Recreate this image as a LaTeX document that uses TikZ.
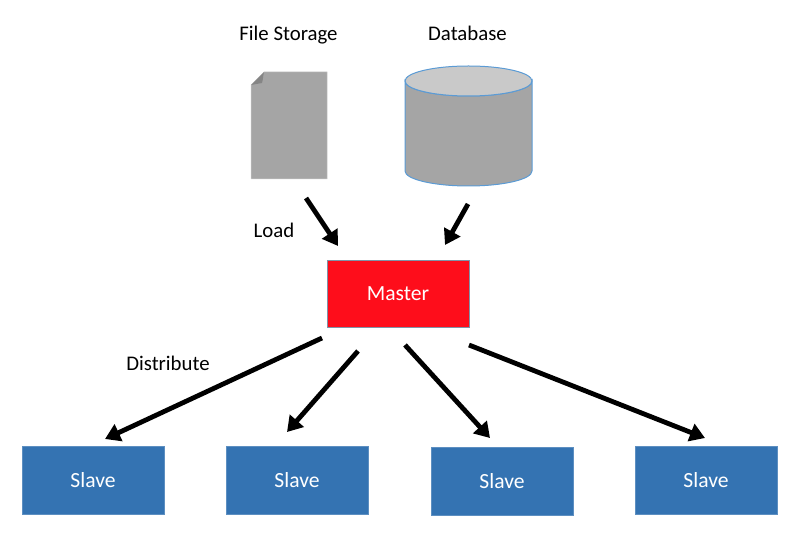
\documentclass[tikz,border=0pt]{standalone}
\usepackage{fontspec}
\setmainfont{Carlito}
\usetikzlibrary{arrows.meta}
\definecolor{slaveblue}{HTML}{3473B2}
\definecolor{masterred}{HTML}{FE0D1B}
\definecolor{masteredge}{HTML}{7F93A8}
\definecolor{shapegray}{HTML}{A5A5A5}
\definecolor{topgray}{HTML}{C9C9C9}
\definecolor{foldgray}{HTML}{858585}
\definecolor{edgeblue}{HTML}{5B9BD5}
\tikzset{
  slavebox/.style={draw=slaveblue!80!white,line width=0.6pt,fill=slaveblue,text=white,minimum width=142pt,minimum height=68pt,inner sep=0pt,text height=14pt,text depth=0pt,font=\fontsize{21.6}{24}\selectfont},
  masterbox/.style={draw=masteredge,line width=0.9pt,fill=masterred,text=white,minimum width=142pt,minimum height=67pt,inner sep=0pt,text height=14pt,text depth=0pt,font=\fontsize{21.6}{24}\selectfont},
  caption/.style={text=black,inner sep=0pt,text height=14pt,text depth=4pt,font=\fontsize{20.8}{24}\selectfont},
  flow/.style={draw=black,line width=4.8pt,-{Triangle[length=15pt,width=18pt]}},
}
\begin{document}
\begin{tikzpicture}[x=1pt,y=-1pt]
\useasboundingbox (0,0) rectangle (800,537);
% file icon
\fill[shapegray,draw=shapegray!60!white,line width=0.5pt] (264,72) -- (327,72) -- (327,179) -- (251,179) -- (251,85) -- cycle;
\fill[foldgray] (264,72) -- (251,85) -- (262,83) .. controls (263,80) and (263,76) .. (264,72) -- cycle;
% cylinder
\path[fill=shapegray,draw=edgeblue,line width=1pt] (405,81) -- (405,171) arc[start angle=180,end angle=360,x radius=63.5pt,y radius=15pt] -- (532,81) arc[start angle=0,end angle=-180,x radius=63.5pt,y radius=15pt] -- cycle;
\path[fill=topgray,draw=edgeblue,line width=1pt] (468.5,81) ellipse[x radius=63.5pt,y radius=15pt];
% labels
\node[caption] (filelabel) at (288.5,36) {File Storage};
\node[caption] (dblabel) at (467.5,36) {Database};
\node[caption] (loadlabel) at (274,233) {Load};
\node[caption] (distlabel) at (168,365) {Distribute};
% boxes
\node[masterbox] (master) at (398,293.5) {Master};
\node[slavebox] (s1) at (93,480) {Slave};
\node[slavebox] (s2) at (297,480) {Slave};
\node[slavebox] (s3) at (502,481.5) {Slave};
\node[slavebox] (s4) at (706,480) {Slave};
% arrow ends
\coordinate (a1) at (306,198); \coordinate (b1) at (338,246);
\coordinate (a2) at (468,204); \coordinate (b2) at (445,245);
\coordinate (a3) at (322,338); \coordinate (b3) at (105,439);
\coordinate (a4) at (358,351); \coordinate (b4) at (287,432);
\coordinate (a5) at (405,345); \coordinate (b5) at (490,438);
\coordinate (a6) at (469,345); \coordinate (b6) at (705,438);
\draw[flow] (a1) -- (b1);
\draw[flow] (a2) -- (b2);
\draw[flow] (a3) -- (b3);
\draw[flow] (a4) -- (b4);
\draw[flow] (a5) -- (b5);
\draw[flow] (a6) -- (b6);
\end{tikzpicture}
\end{document}
